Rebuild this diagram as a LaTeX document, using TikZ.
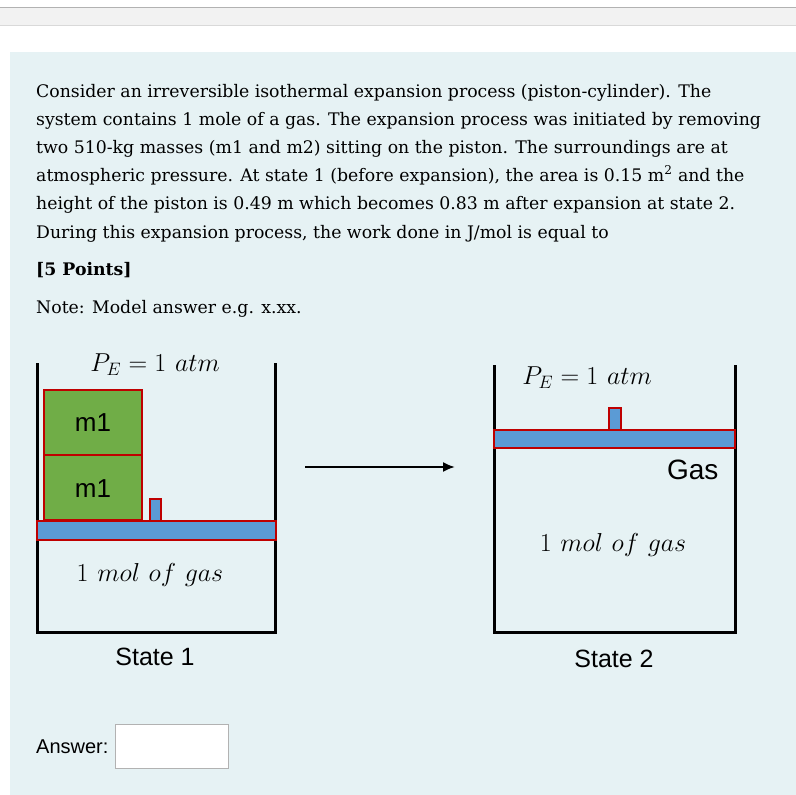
\documentclass[tikz,border=0pt]{standalone}
\usepackage{fontspec}
\setmainfont{DejaVu Serif}
\setsansfont{Liberation Sans}
\usepackage{amsmath}
\usetikzlibrary{arrows.meta}
\begin{document}
\begin{tikzpicture}[x=1pt,y=-1pt,
  txt/.style={anchor=base west,inner sep=0pt,font=\fontsize{17.3}{19}\selectfont},
  wall/.style={line width=3pt,black},
  mlab/.style={font=\fontsize{22}{24}\selectfont,scale=1.25},
  pist/.style={draw=red!75!black,line width=2.2pt,fill=pblue}]
\definecolor{pblue}{HTML}{5B9BD5}
\definecolor{massg}{HTML}{70AD47}
\definecolor{panel}{HTML}{E6F2F4}
\useasboundingbox (0,0) rectangle (796,795);
\fill[white] (0,0) rectangle (796,795);
\fill[gray!10] (0,8) rectangle (796,25);
\draw[gray!60] (0,7.5) -- (796,7.5);
\draw[gray!30] (0,25) -- (796,25);
\fill[panel] (10,52) rectangle (796,795);
\node[txt] (l1) at (36,97) {Consider an irreversible isothermal expansion process (piston-cylinder). The};
\node[txt] (l2) at (36,125) {system contains 1 mole of a gas. The expansion process was initiated by removing};
\node[txt] (l3) at (36,153) {two 510-kg masses (m1 and m2) sitting on the piston. The surroundings are at};
\node[txt] (l4) at (36,181) {atmospheric pressure. At state 1 (before expansion), the area is 0.15 m\textsuperscript{2} and the};
\node[txt] (l5) at (36,209) {height of the piston is 0.49 m which becomes 0.83 m after expansion at state 2.};
\node[txt] (l6) at (36,238) {During this expansion process, the work done in J/mol is equal to};
\node[txt,font=\fontsize{17.3}{19}\selectfont\bfseries] (pts) at (36,275) {[5 Points]};
\node[txt] (note) at (36,313) {Note: Model answer e.g. x.xx.};
% left
\draw[wall] (37,363) -- (37,632) -- (275,632) -- (275,363);
\filldraw[fill=massg,draw=red!75!black,line width=2.2pt] (44,390) rectangle (142,455);
\filldraw[fill=massg,draw=red!75!black,line width=2.2pt] (44,455) rectangle (142,520);
\node[font=\sffamily\fontsize{26}{28}\selectfont] (m1a) at (93,423) {m1};
\node[font=\sffamily\fontsize{26}{28}\selectfont] (m1b) at (93,489) {m1};
\draw[pist] (150,499) rectangle (161,521);
\draw[pist] (37,521) rectangle (276,540);
\node[mlab] (pe1) at (155,365) {$P_E = 1\ atm$};
\node[mlab] (g1) at (150,575) {$1\ mol\ of\ gas$};
\node[font=\sffamily\fontsize{25}{27}\selectfont] (s1) at (155,657) {State 1};
% arrow
\coordinate (a1) at (305,467); \coordinate (a2) at (455,467);
\draw[line width=2pt,-{Latex[length=12pt,width=10pt]}] (a1) -- (a2);
% right
\draw[wall] (494,365) -- (494,632) -- (735,632) -- (735,365);
\draw[pist] (609,408) rectangle (621,430);
\draw[pist] (494,430) rectangle (735,448);
\node[mlab] (pe2) at (587,378) {$P_E = 1\ atm$};
\node[font=\sffamily\fontsize{28}{30}\selectfont,anchor=east] (gas) at (722,470) {Gas};
\node[mlab] (g2) at (613,545) {$1\ mol\ of\ gas$};
\node[font=\sffamily\fontsize{25}{27}\selectfont] (s2) at (614,659) {State 2};
% answer
\node[font=\sffamily\fontsize{20}{22}\selectfont,anchor=west,inner sep=0pt] (ans) at (36,747) {Answer:};
\node[draw=gray!60,fill=white,minimum width=113pt,minimum height=44pt,anchor=north west] (box) at (115,724) {};
\end{tikzpicture}
\end{document}
